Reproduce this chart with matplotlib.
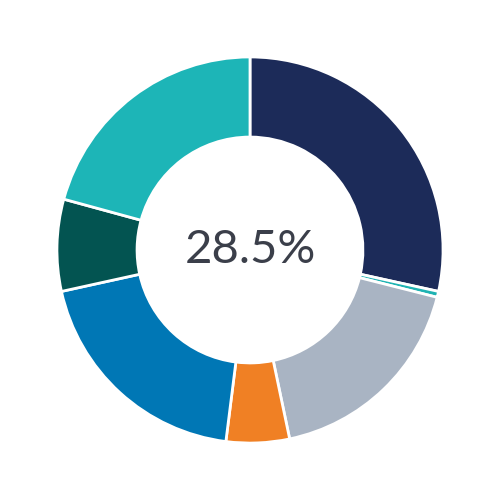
import matplotlib.pyplot as plt

values = [28.5, 0.5, 17.8, 5.3, 19.6, 7.7, 20.8]
colors = ['#1c2b59', '#1fb3b3', '#a9b4c3', '#f08024', '#0077b5', '#035451', '#1db5b7']
center_label = "28.5%"

fig = plt.figure(figsize=(5, 5), dpi=100)
ax = fig.add_axes([0, 0, 1, 1])
ax.pie(values, colors=colors, startangle=90, counterclock=False, radius=1,
       wedgeprops=dict(width=0.415, edgecolor='white', linewidth=2))
ax.text(0, 0, center_label, ha='center', va='center', fontsize=34,
        family='Lato', color='#3b3f4a')
ax.set_xlim(-1.295, 1.295)
ax.set_ylim(-1.295, 1.295)
ax.set_aspect('equal')
ax.axis('off')
fig.savefig('out.png', dpi=100, facecolor='white')
